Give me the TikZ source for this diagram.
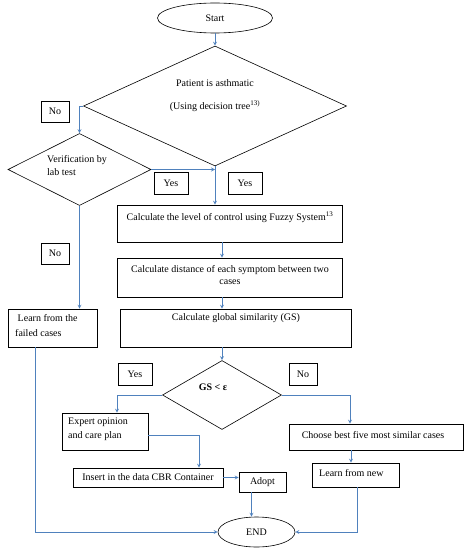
\documentclass[tikz,border=0pt]{standalone}
\usepackage{fontspec}
\setmainfont{Liberation Serif}
\usepackage{tikz}
\usetikzlibrary{shapes.geometric, positioning, calc, arrows}
\definecolor{flowblue}{RGB}{79,129,189}

\begin{document}
\begin{tikzpicture}[x=1pt, y=-1pt, every node/.style={font=\fontsize{10}{12.5}\selectfont}]
		\tikzstyle{taskbox}=[draw=black, line width=0.6pt, rectangle, inner sep=0pt, fill=none, text=black]
		\tikzstyle{taskdecision}=[draw=black, line width=0.6pt, diamond, inner sep=0pt, fill=none]
		\tikzstyle{taskterminal}=[draw=black, line width=0.6pt, ellipse, inner sep=0pt, fill=none]
		\tikzstyle{tasktag}=[draw=black, line width=0.6pt, rectangle, inner sep=0pt, minimum height=21pt]
		\tikzstyle{taskflow}=[->, >=stealth, line width=0.8pt, flowblue]

		\useasboundingbox (0,0) rectangle (474,551);

		% terminals
		\node (tstart) at (215,18) [taskterminal, minimum width=115pt, minimum height=30pt] {Start};
		\node (tend) at (256.5,532) [taskterminal, minimum width=77pt, minimum height=30pt] {END};

		% decisions
		\node (tasthma) at (215,106) [taskdecision, minimum width=263pt, minimum height=120pt] {};
		\node (tasthmaa) at (215,83) {Patient is asthmatic};
		\node (tasthmab) at (215,106) {(Using decision tree\textsuperscript{13)}};

		\node (tlab) at (79.5,169.5) [taskdecision, minimum width=143pt, minimum height=72pt] {};
		\node (tlabtext) at (47,165.5) [anchor=west, align=left, inner sep=0pt] {Verification by\\lab test};

		\node (tgs) at (222,395) [taskdecision, minimum width=119pt, minimum height=69pt] {};
		\node (tgstext) at (213,387) {\textbf{GS < ε}};

		% tags
		\node (tnoa) at (55,111.5) [tasktag, minimum width=28pt] {No};
		\node (tnob) at (55,253.5) [tasktag, minimum width=28pt] {No};
		\node (tyesa) at (171,183) [tasktag, minimum width=34pt, minimum height=22pt] {Yes};
		\node (tyesb) at (245,183) [tasktag, minimum width=34pt, minimum height=22pt] {Yes};
		\node (tyesc) at (135,374) [tasktag, minimum width=34pt, minimum height=22pt] {Yes};
		\node (tnoc) at (303,374) [tasktag, minimum width=28pt, minimum height=22pt] {No};

		% boxes
		\node (tfuzzy) at (229.5,223.5) [taskbox, minimum width=225pt, minimum height=37pt] {};
		\node (tfuzzytext) at (230,217) {Calculate the level of control using Fuzzy System\textsuperscript{13}};

		\node (tdist) at (229.5,277.5) [taskbox, minimum width=225pt, minimum height=39pt] {};
		\node (tdisttext) at (230,275) [align=center, inner sep=0pt] {Calculate distance of each symptom between two\\cases};

		\node (tglobal) at (235.5,328) [taskbox, minimum width=231pt, minimum height=38pt] {};
		\node (tglobaltext) at (236,318) {Calculate global similarity (GS)};

		\node (tfailed) at (52.5,328) [taskbox, minimum width=89pt, minimum height=38pt] {};
		\node (tfailedtext) at (15,325.5) [anchor=west, align=left, inner sep=0pt, font=\fontsize{10}{15}\selectfont] {\ Learn from the\\failed cases};

		\node (texpert) at (105,431.5) [taskbox, minimum width=86pt, minimum height=37pt] {};
		\node (texperttext) at (68,429) [anchor=west, align=left, inner sep=0pt, font=\fontsize{10}{14}\selectfont] {Expert opinion\\and care plan};

		\node (tinsert) at (148,477.5) [taskbox, minimum width=150pt, minimum height=19pt] {Insert in the data CBR Container};
		\node (tadopt) at (262.5,482) [taskbox, minimum width=47pt, minimum height=20pt] {Adopt};

		\node (tchoose) at (376,437) [taskbox, minimum width=174pt, minimum height=26pt] {};
		\node (tchoosetext) at (373,435) {Choose best five most similar cases};

		\node (tnew) at (355.5,475) [taskbox, minimum width=87pt, minimum height=24pt] {};
		\node (tnewtext) at (319,473) [anchor=west, inner sep=0pt] {Learn from new};

		% connectors
		\draw [taskflow] (tstart) -- (tasthma.north);
		\draw [taskflow] (tasthma.west) -| (tlab.north);
		\draw [taskflow] (tlab.east) -- (tasthma.south |- tlab.east);
		\draw [taskflow] (tasthma.south) -- (tasthma.south |- tfuzzy.north);
		\draw [taskflow] (tfuzzy.south -| tgs.north) -- (tdist.north -| tgs.north);
		\draw [taskflow] (tdist.south -| tgs.north) -- (tglobal.north -| tgs.north);
		\draw [taskflow] (tglobal.south -| tgs.north) -- (tgs.north);
		\draw [taskflow] (tlab.south) -- (tlab.south |- tfailed.north);
		\draw [taskflow] ([xshift=-17.5pt]tfailed.south) |- (tend.west);
		\draw [taskflow] (tgs.west) -| ([xshift=12pt]texpert.north);
		\draw [taskflow] ([yshift=-3.5pt]texpert.east) -| ([xshift=51pt]tinsert.north);
		\draw [taskflow] (tinsert.east) -- (tinsert.east -| tadopt.west);
		\draw [taskflow] ([xshift=-11pt]tadopt.south) -- ([xshift=-11pt]tadopt.south |- tend.north);
		\draw [taskflow] (tgs.east) -| ([xshift=-26pt]tchoose.north);
		\draw [taskflow] ([xshift=-4.5pt]tnew.north |- tchoose.south) -- ([xshift=-4.5pt]tnew.north);
		\draw [taskflow] ([xshift=1.5pt]tnew.south) |- (tend.east);

		\end{tikzpicture}
\end{document}
